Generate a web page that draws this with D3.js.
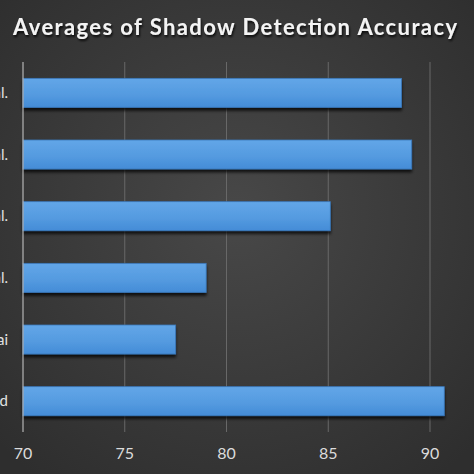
<!DOCTYPE html>
<html lang="en">
<head>
    <meta charset="UTF-8">
    <title>Averages of Shadow Detection Accuracy</title>
    <script src="https://d3js.org/d3.v7.min.js"></script>
    <style>
        html, body { margin: 0; padding: 0; background: #333; }
        svg { display: block; }
    </style>
</head>
<body>
    <svg id="canvas" width="474" height="474"></svg>
    <script>
        let methods = ["Cucchiara et al.", "Huang et al.", "Sanin et al.", "Leone et al.", "Tsai", "Proposed"];
        let accuracy = [88.6, 89.1, 85.1, 79.0, 77.5, 90.7];
        let xTicks = [70, 75, 80, 85, 90];
        let titleText = "Averages of Shadow Detection Accuracy";

        let width = 474, height = 474;
        let canvas = d3.select("#canvas");
        let defs = canvas.append("defs");

        // background: dark slate with a lighter middle
        let bg = defs.append("radialGradient").attr("id", "bg")
            .attr("cx", "50%").attr("cy", "45%").attr("r", "70%");
        bg.append("stop").attr("offset", "0%").attr("stop-color", "#484848");
        bg.append("stop").attr("offset", "100%").attr("stop-color", "#2e2e2e");

        let barGrad = defs.append("linearGradient").attr("id", "barGrad")
            .attr("x1", 0).attr("y1", 0).attr("x2", 0).attr("y2", 1);
        barGrad.append("stop").attr("offset", "0%").attr("stop-color", "#62a6e8");
        barGrad.append("stop").attr("offset", "55%").attr("stop-color", "#559be0");
        barGrad.append("stop").attr("offset", "100%").attr("stop-color", "#448cd7");

        let shadow = defs.append("filter").attr("id", "shadow")
            .attr("x", "-5%").attr("y", "-20%").attr("width", "110%").attr("height", "160%");
        shadow.append("feDropShadow").attr("dx", 0).attr("dy", 3).attr("stdDeviation", 1.5)
            .attr("flood-color", "#000").attr("flood-opacity", 0.75);

        let titleShadow = defs.append("filter").attr("id", "tshadow");
        titleShadow.append("feDropShadow").attr("dx", 1).attr("dy", 2).attr("stdDeviation", 1)
            .attr("flood-color", "#000").attr("flood-opacity", 0.8);

        canvas.append("rect").attr("width", width).attr("height", height).attr("fill", "url(#bg)");

        let xScale = d3.scaleLinear().domain([70, 92]).range([23, 470.7]);
        let yScale = d3.scaleBand().domain(methods).range([62, 432]).paddingInner(0.53).paddingOuter(0.265);

        // vertical gridlines
        canvas.append("g").selectAll("line")
            .data(xTicks.slice(1))
            .enter().append("line")
            .attr("x1", d => xScale(d)).attr("x2", d => xScale(d))
            .attr("y1", 62).attr("y2", 432)
            .attr("stroke", "#686868").attr("stroke-width", 1);

        // bars
        canvas.append("g").selectAll("rect")
            .data(methods)
            .enter().append("rect")
            .attr("x", xScale(70))
            .attr("y", d => yScale(d))
            .attr("width", (d, i) => xScale(accuracy[i]) - xScale(70))
            .attr("height", yScale.bandwidth())
            .attr("fill", "url(#barGrad)")
            .attr("stroke", "#3a78bb").attr("stroke-width", 0.8)
            .attr("filter", "url(#shadow)");

        // y axis line
        canvas.append("line")
            .attr("x1", xScale(70)).attr("x2", xScale(70))
            .attr("y1", 62).attr("y2", 432)
            .attr("stroke", "#b5b5b5").attr("stroke-width", 1.2);

        // category labels, running off the left edge as in the source
        canvas.append("g").selectAll("text")
            .data(methods)
            .enter().append("text")
            .attr("x", 8)
            .attr("y", d => yScale(d) + yScale.bandwidth() / 2)
            .attr("dy", "0.35em")
            .attr("text-anchor", "end")
            .attr("fill", "#e2e2e2")
            .style("font-family", "Lato, 'Open Sans', sans-serif")
            .style("font-size", "15px")
            .text(d => d);

        // x tick labels
        canvas.append("g").selectAll("text")
            .data(xTicks)
            .enter().append("text")
            .attr("x", d => xScale(d))
            .attr("y", 459)
            .attr("text-anchor", "middle")
            .attr("fill", "#dcdcdc")
            .style("font-family", "Lato, 'Open Sans', sans-serif")
            .style("font-size", "16px")
            .text(d => d);

        // title
        canvas.append("text")
            .attr("x", 13).attr("y", 35)
            .attr("textLength", 444)
            .attr("lengthAdjust", "spacing")
            .attr("fill", "#f4f4f4")
            .attr("filter", "url(#tshadow)")
            .style("font-family", "Lato, 'Open Sans', sans-serif")
            .style("font-weight", "bold")
            .style("font-size", "22px")
            .text(titleText);
    </script>
</body>
</html>
